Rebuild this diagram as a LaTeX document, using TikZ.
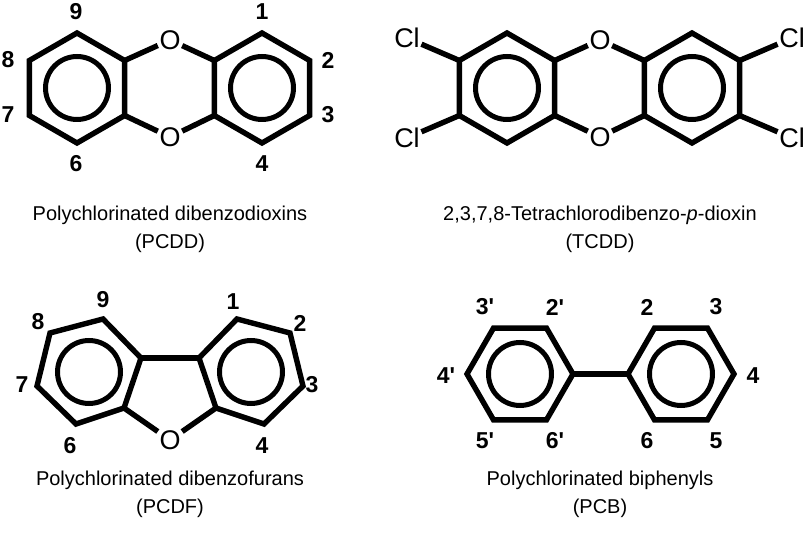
\documentclass[tikz,border=0pt]{standalone}
\usepackage{fontspec}
\setmainfont{Liberation Sans}
\usetikzlibrary{calc}
\newcommand{\pr}{\textquotesingle}
\begin{document}
\begin{tikzpicture}[x=1pt,y=-1pt,
  bond/.style={line width=5.4pt,line join=miter,line cap=butt},
  ring/.style={line width=5pt},
  atom/.style={font=\fontsize{27}{29}\selectfont,inner sep=1.5pt},
  num/.style={font=\fontsize{23}{25}\selectfont\bfseries},
  captext/.style={font=\fontsize{20}{22}\selectfont}]
\useasboundingbox (0,0) rectangle (809,534);
% ---------- PCDD ----------
\foreach \p/\cx in {L/77,R/262,TL/507,TR/692}{
  \foreach \k in {0,...,5}{\coordinate (\p\k) at ($(\cx,88)+({30+60*\k}:55)$);}
  \draw[bond] (\p0)--(\p1)--(\p2)--(\p3)--(\p4)--(\p5)--cycle;
  \node[draw,circle,ring,minimum size=63pt,inner sep=0] (c\p) at (\cx,88) {};
}
\node[atom] (O1) at (170,40) {O};
\node[atom] (O2) at (170,137) {O};
\draw[bond] (L5)--(O1)--(R3);
\draw[bond] (L0)--(O2)--(R2);
\node[num] (n9) at (76,12) {9};
\node[num] (n1) at (262,12) {1};
\node[num] (n8) at (8,60) {8};
\node[num] (n2) at (328,60) {2};
\node[num] (n7) at (8,115) {7};
\node[num] (n3) at (328,115) {3};
\node[num] (n6) at (76,164) {6};
\node[num] (n4) at (262,164) {4};
\node[captext] (t1) at (170,215) {Polychlorinated dibenzodioxins};
\node[captext] (t1b) at (170,243) {(PCDD)};
% ---------- TCDD ----------
\node[atom] (O3) at (600,40) {O};
\node[atom] (O4) at (600,137) {O};
\draw[bond] (TL5)--(O3)--(TR3);
\draw[bond] (TL0)--(O4)--(TR2);
\node[atom] (Cl1) at (407,38) {Cl};
\node[atom] (Cl2) at (407,138) {Cl};
\node[atom] (Cl3) at (792,38) {Cl};
\node[atom] (Cl4) at (792,138) {Cl};
\draw[bond] (TL3)--(Cl1);
\draw[bond] (TL2)--(Cl2);
\draw[bond] (TR5)--(Cl3);
\draw[bond] (TR0)--(Cl4);
\node[captext] (t2) at (600,215) {2,3,7,8-Tetrachlorodibenzo-\textit{p}-dioxin};
\node[captext] (t2b) at (600,243) {(TCDD)};
% ---------- PCDF ----------
\coordinate (a9) at (103,319); \coordinate (a8) at (50,333);
\coordinate (a7) at (37,386); \coordinate (a6) at (76,424);
\coordinate (a5) at (124,408); \coordinate (a4) at (141,358);
\coordinate (b1) at (237,319); \coordinate (b2) at (290,333);
\coordinate (b3) at (303,386); \coordinate (b4) at (264,424);
\coordinate (b5) at (216,408); \coordinate (b6) at (199,358);
\draw[bond] (a9)--(a8)--(a7)--(a6)--(a5)--(a4)--cycle;
\draw[bond] (b1)--(b2)--(b3)--(b4)--(b5)--(b6)--cycle;
\draw[bond] (a4)--(b6);
\node[atom] (O5) at (170,440) {O};
\draw[bond] (a5)--(O5)--(b5);
\node[draw,circle,ring,minimum size=63pt,inner sep=0] (cF1) at (89,372) {};
\node[draw,circle,ring,minimum size=63pt,inner sep=0] (cF2) at (251,372) {};
\node[num] (f9) at (103,300) {9};
\node[num] (f8) at (38,322) {8};
\node[num] (f7) at (22,385) {7};
\node[num] (f6) at (70,446) {6};
\node[num] (f1) at (233,302) {1};
\node[num] (f2) at (300,323) {2};
\node[num] (f3) at (312,385) {3};
\node[num] (f4) at (262,446) {4};
\node[captext] (t3) at (170,480) {Polychlorinated dibenzofurans};
\node[captext] (t3b) at (170,508) {(PCDF)};
% ---------- PCB ----------
\foreach \p/\cx in {BL/520,BR/681}{
  \foreach \k in {0,...,5}{\coordinate (\p\k) at ($(\cx,374)+({60*\k}:53)$);}
  \draw[bond] (\p0)--(\p1)--(\p2)--(\p3)--(\p4)--(\p5)--cycle;
  \node[draw,circle,ring,minimum size=63pt,inner sep=0] (c\p) at (\cx,374) {};
}
\draw[bond] (BL0)--(BR3);
\node[num] (q1) at (485,307) {3\pr};
\node[num] (q2) at (555,307) {2\pr};
\node[num] (q3) at (647,307) {2};
\node[num] (q4) at (716,307) {3};
\node[num] (q5) at (446,376) {4\pr};
\node[num] (q6) at (753,376) {4};
\node[num] (q7) at (485,441) {5\pr};
\node[num] (q8) at (555,441) {6\pr};
\node[num] (q9) at (647,441) {6};
\node[num] (q10) at (716,441) {5};
\node[captext] (t4) at (600,480) {Polychlorinated biphenyls};
\node[captext] (t4b) at (600,508) {(PCB)};
\end{tikzpicture}
\end{document}
